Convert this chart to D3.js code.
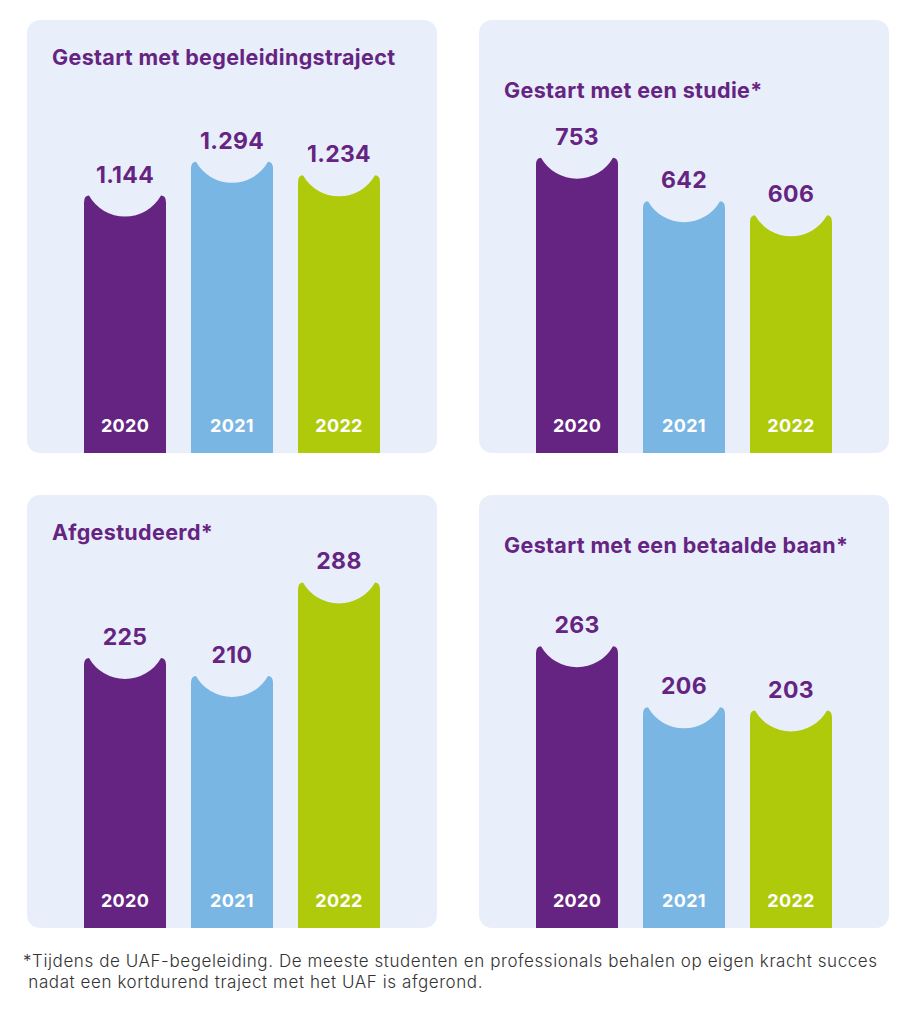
<!DOCTYPE html>
<html>
<head>
<meta charset="utf-8">
<script src="https://cdn.jsdelivr.net/npm/d3@7"></script>
<style>
  body { margin: 0; background: #fff; }
  svg { display: block; }
  .title { font-family: Inter, sans-serif; font-weight: 700; fill: #662482; letter-spacing: 0.35px; }
  .value { font-family: Inter, sans-serif; font-weight: 700; fill: #662482; letter-spacing: 0.3px; }
  .year { font-family: Inter, sans-serif; font-weight: 700; fill: #fff; letter-spacing: 0.3px; }
  .note { font-family: Inter, sans-serif; font-weight: 300; fill: #333; letter-spacing: 0.58px; }
</style>
</head>
<body>
<svg></svg>
<script>
// data
const years = ['2020', '2021', '2022'];
const titles = [
  'Gestart met begeleidingstraject',
  'Gestart met een studie*',
  'Afgestudeerd*',
  'Gestart met een betaalde baan*'
];
const begeleiding = [1144, 1294, 1234];
const studie = [753, 642, 606];
const afgestudeerd = [225, 210, 288];
const baan = [263, 206, 203];
const valueLabels = [
  ['1.144', '1.294', '1.234'],
  ['753', '642', '606'],
  ['225', '210', '288'],
  ['263', '206', '203']
];
const footnote = [
  '*Tijdens de UAF-begeleiding. De meeste studenten en professionals behalen op eigen kracht succes',
  ' nadat een kortdurend traject met het UAF is afgerond.'
];

const series = [begeleiding, studie, afgestudeerd, baan];

// layout
const width = 916, height = 1024;
const panelW = 410, panelH = 433;
const panelX = [27, 479], panelY = [20, 495];
const titleY = [45, 78, 45, 58];
// per panel: value shown at a bar height of 360px
const yTop = [1600, 918, 300, 336];
const colors = ['#662482', '#7ab6e4', '#afca0b'];

const svg = d3.select('svg')
  .attr('width', width)
  .attr('height', height);

const xScale = d3.scaleBand()
  .domain(years)
  .range([57, 353])
  .paddingInner(0.2336)
  .paddingOuter(0);

// bar with a round notch at the top where the value sits
const barPath = (x0, w, top, bottom) => {
  const a = 5, r = 7, s = 21;
  const half = w / 2 - a;
  const R = (half * half + s * s) / (2 * s);
  return `M${x0},${bottom} L${x0},${top + r} Q${x0},${top} ${x0 + a},${top}` +
    ` A${R},${R} 0 0 0 ${x0 + w - a},${top}` +
    ` Q${x0 + w},${top} ${x0 + w},${top + r} L${x0 + w},${bottom} Z`;
};

series.forEach((data, i) => {
  const col = i % 2, row = Math.floor(i / 2);
  const g = svg.append('g')
    .attr('transform', `translate(${panelX[col]}, ${panelY[row]})`);

  g.append('rect')
    .attr('width', panelW)
    .attr('height', panelH)
    .attr('rx', 13)
    .attr('fill', '#e8effa');

  g.append('text')
    .attr('class', 'title')
    .attr('x', 25)
    .attr('y', titleY[i])
    .attr('font-size', 21.5)
    .text(titles[i]);

  const yScale = d3.scaleLinear()
    .domain([0, yTop[i]])
    .range([panelH, panelH - 360]);

  const bars = g.selectAll('.bar')
    .data(data)
    .join('g')
    .attr('class', 'bar');

  bars.append('path')
    .attr('d', (d, j) => barPath(xScale(years[j]), xScale.bandwidth(), yScale(d), panelH))
    .attr('fill', (d, j) => colors[j]);

  bars.append('text')
    .attr('class', 'value')
    .attr('x', (d, j) => xScale(years[j]) + xScale.bandwidth() / 2)
    .attr('y', d => yScale(d) - 13)
    .attr('text-anchor', 'middle')
    .attr('font-size', 23)
    .text((d, j) => valueLabels[i][j]);

  bars.append('text')
    .attr('class', 'year')
    .attr('x', (d, j) => xScale(years[j]) + xScale.bandwidth() / 2)
    .attr('y', panelH - 21)
    .attr('text-anchor', 'middle')
    .attr('font-size', 18)
    .text((d, j) => years[j]);
});

svg.selectAll('.note')
  .data(footnote)
  .join('text')
  .attr('class', 'note')
  .attr('x', 23)
  .attr('y', (d, i) => 967 + i * 21)
  .attr('font-size', 17)
  .style('white-space', 'pre')
  .text(d => d);
</script>
</body>
</html>
